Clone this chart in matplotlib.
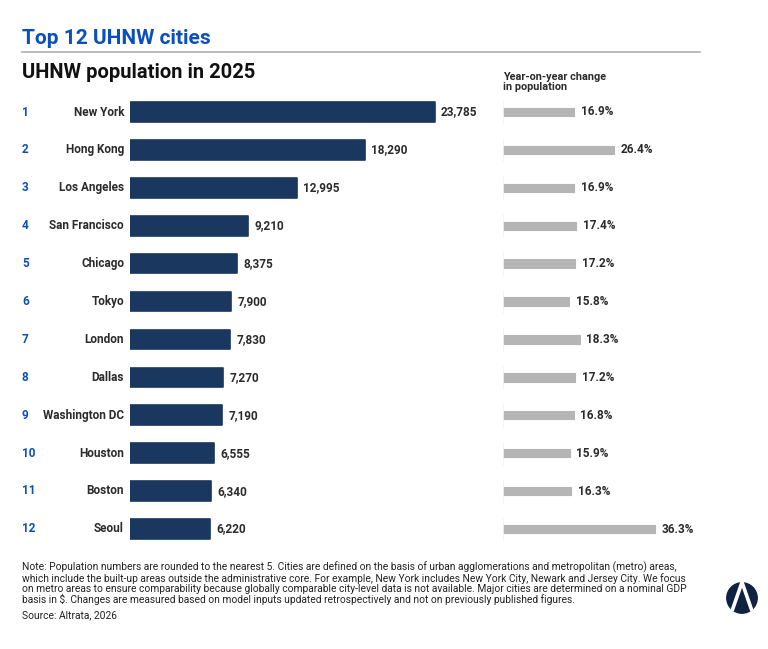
import matplotlib
matplotlib.use("Agg")
import matplotlib.pyplot as plt
from matplotlib.patches import Circle
from matplotlib.lines import Line2D

plt.rcParams['font.family'] = ['Roboto', 'DejaVu Sans']

ranks = [1, 2, 3, 4, 5, 6, 7, 8, 9, 10, 11, 12]
cities = ["New York", "Hong Kong", "Los Angeles", "San Francisco", "Chicago", "Tokyo",
          "London", "Dallas", "Washington DC", "Houston", "Boston", "Seoul"]
population = [23785, 18290, 12995, 9210, 8375, 7900, 7830, 7270, 7190, 6555, 6340, 6220]
yoy_change = [16.9, 26.4, 16.9, 17.4, 17.2, 15.8, 18.3, 17.2, 16.8, 15.9, 16.3, 36.3]

W, H = 768, 649
fig = plt.figure(figsize=(W / 100, H / 100), dpi=100)

def fx(px):
    return px / W

def fy(py):
    return 1 - py / H

NAVY = "#19375f"
GREY = "#b5b5b5"
BLUE = "#0b4fbd"
TXT = "#2b2b2b"

# Title and rule
fig.text(fx(22), fy(38), "Top 12 UHNW cities", color=BLUE, fontsize=15, fontweight="bold",
         va="center", ha="left")
fig.add_artist(Line2D([fx(22), fx(700)], [fy(52), fy(52)], color="#b0b0b0", lw=1.2))
fig.text(fx(22), fy(73), "UHNW population in 2025", color="#111111", fontsize=14.5,
         fontweight="bold", va="center", ha="left")
fig.text(fx(503), fy(82), "Year-on-year change\nin population", color=TXT, fontsize=7.8,
         fontweight="bold", va="center", ha="left", linespacing=1.05)

# Left bar axes
ax_top, ax_bot = 93, 548
axL = fig.add_axes([fx(130), fy(ax_bot), fx(360), (ax_bot - ax_top) / H])
scaleL = population[0] * 360 / 305
ypos = list(range(len(cities)))
axL.barh(ypos, population, height=0.52, color=NAVY, edgecolor=NAVY, linewidth=1.2,
         joinstyle="round")
axL.set_xlim(0, scaleL)
axL.set_ylim(11.5, -0.5)
for y, v in zip(ypos, population):
    axL.text(v + scaleL * 0.017, y, f"{v:,}", va="center", ha="left", fontsize=8.5,
             fontweight="bold", color=TXT)
axL.axis("off")

# Right bar axes
axR = fig.add_axes([fx(503), fy(ax_bot), fx(220), (ax_bot - ax_top) / H])
scaleR = 220 / 4.2
axR.barh(ypos, yoy_change, height=0.22, color=GREY, edgecolor=GREY, linewidth=0.8,
         joinstyle="round")
axR.set_xlim(0, scaleR)
axR.set_ylim(11.5, -0.5)
for y, v in zip(ypos, yoy_change):
    axR.text(v + scaleR * 0.03, y, f"{v:.1f}%", va="center", ha="left", fontsize=8.5,
             fontweight="bold", color=TXT)
    axR.plot([0, 0], [y - 0.3, y + 0.3], color="#f3f3f3", lw=0.6)
axR.axis("off")

# Rank numbers and city names
for y, r, c in zip(ypos, ranks, cities):
    py = 112 + 37.9 * y
    fig.text(fx(22), fy(py), str(r), color=BLUE, fontsize=8.5, fontweight="bold",
             va="center", ha="left")
    fig.text(fx(124), fy(py), c, color=TXT, fontsize=8.5, fontweight="bold",
             va="center", ha="right")

# Footnote
note = ("Note: Population numbers are rounded to the nearest 5. Cities are defined on the basis of urban agglomerations and metropolitan (metro) areas,\n"
        "which include the built-up areas outside the administrative core. For example, New York includes New York City, Newark and Jersey City. We focus\n"
        "on metro areas to ensure comparability because globally comparable city-level data is not available. Major cities are determined on a nominal GDP\n"
        "basis in $. Changes are measured based on model inputs updated retrospectively and not on previously published figures.")
fig.text(fx(22), fy(561), note, color="#222222", fontsize=7.35, va="top", ha="left",
         linespacing=1.03)
fig.text(fx(22), fy(615), "Source: Altrata, 2026", color="#222222", fontsize=7.35,
         va="center", ha="left")

# Logo
axLogo = fig.add_axes([fx(726), fy(614), fx(32), 32 / H])
axLogo.set_xlim(-1, 1)
axLogo.set_ylim(-1, 1)
axLogo.set_aspect("equal")
axLogo.axis("off")
axLogo.add_patch(Circle((0, 0), 0.95, color="#0f2240"))
axLogo.plot([-0.62, 0, 0.62], [-0.8, 0.98, -0.8], color="white", lw=2.6,
            solid_joinstyle="miter", solid_capstyle="butt")

fig.savefig("out.png", dpi=100, facecolor="white")
